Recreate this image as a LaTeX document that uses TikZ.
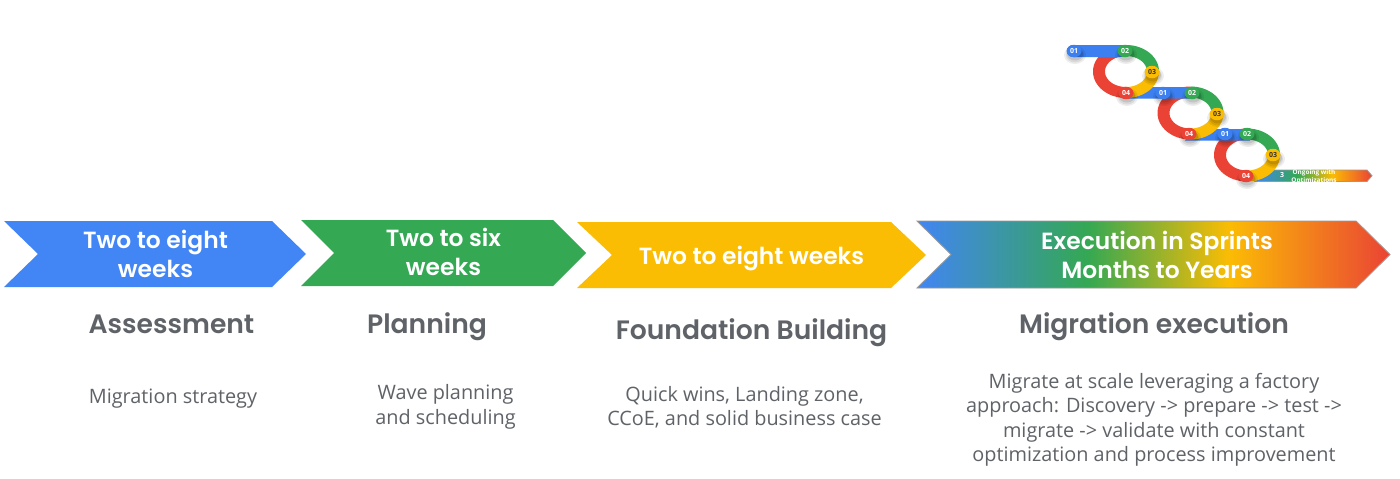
\documentclass[tikz,border=0pt]{standalone}
\usepackage{fontspec}
\setmainfont{Open Sans}
\newfontfamily\headfont{Poppins SemiBold}
\usetikzlibrary{shapes.geometric}
\definecolor{gblue}{HTML}{4285F4}
\definecolor{ggreen}{HTML}{34A853}
\definecolor{gyellow}{HTML}{FBBC04}
\definecolor{gred}{HTML}{EA4335}
\definecolor{ggrey}{HTML}{5F6368}
\definecolor{barblue}{HTML}{3B7FF0}
\pgfdeclarehorizontalshading{execgrad}{100bp}{color(0bp)=(gblue); color(25bp)=(gblue); color(43bp)=(ggreen); color(58bp)=(gyellow); color(75bp)=(gred); color(100bp)=(gred)}
\tikzset{
  chevlabel/.style={text=white,align=center,font=\headfont\fontsize{23.4}{29}\selectfont},
  headlabel/.style={text=ggrey,font=\headfont\fontsize{26.6}{30}\selectfont},
  bodylabel/.style={text=ggrey,align=center,font=\fontsize{19.85}{24.5}\selectfont},
  badgebase/.style={ellipse,minimum width=15,minimum height=12.5,inner sep=0,font=\bfseries\fontsize{7}{7}\selectfont},
}
% annular sector, angles in picture coordinates (y down)
\newcommand\ringpart[5]{%
  \fill[#5] plot[domain=#3:#4,samples=40] ({#1+33*cos(\x)},{#2+26.5*sin(\x)})
    -- plot[domain=#4:#3,samples=40] ({#1+21*cos(\x)},{#2+15.5*sin(\x)}) -- cycle;}
\newcommand\badge[6]{%
  \fill[black,opacity=.07] (#2+1,#3+4) ellipse (11 and 9);
  \fill[black,opacity=.08] (#2+1,#3+4) ellipse (9 and 7.5);
  \fill[black,opacity=.10] (#2+1,#3+3) ellipse (8 and 6.5);
  \node[badgebase,fill=#4,text=#5] (#1) at (#2,#3) {#6};}
\begin{document}
\begin{tikzpicture}[x=1pt,y=-1pt]
\useasboundingbox (0,0) rectangle (1400,479);
\fill[white] (0,0) rectangle (1400,479);
% chevrons
\fill[gblue] (4,221)--(272,221)--(306,254)--(272,287)--(4,287)--(38,254)--cycle;
\fill[ggreen] (301,220)--(553,220)--(586,253)--(553,286)--(301,286)--(334,253)--cycle;
\fill[gyellow] (577,222)--(891,222)--(926,255)--(891,288)--(577,288)--(612,255)--cycle;
\shade[shading=execgrad,draw=gray!80,line width=.9] (917,221)--(1356,221)--(1390,254.5)--(1356,288)--(917,288)--(951,254.5)--cycle;
\node[chevlabel] (c1) at (155.5,254) {Two to eight\\weeks};
\node[chevlabel] (c2) at (443.5,252) {Two to six\\weeks};
\node[chevlabel] (c3) at (751.5,259) {Two to eight weeks};
\node[chevlabel] (c4) at (1157,255) {Execution in Sprints\\Months to Years};
\node[headlabel] (h1) at (171.5,324) {Assessment};
\node[headlabel] (h2) at (427,326.5) {Planning};
\node[headlabel] (h3) at (751.5,333) {Foundation Building};
\node[headlabel] (h4) at (1154,326.5) {Migration execution};
\node[bodylabel] (b1) at (173,399) {Migration strategy};
\node[bodylabel] (b2) at (445.5,407) {Wave planning\\and scheduling};
\node[bodylabel] (b3) at (744.5,407) {Quick wins, Landing zone,\\CCoE, and solid business case};
\node[bodylabel] (b4) at (1154,420) {Migrate at scale leveraging a factory\\approach: Discovery -> prepare -> test ->\\migrate -> validate with constant\\optimization and process improvement};
% sprint rings: red parts first
\ringpart{1126}{71.5}{90}{270}{gred}
\ringpart{1190.5}{113}{90}{270}{gred}
\ringpart{1247}{155}{90}{270}{gred}
% blue bars
\fill[barblue,rounded corners=6] (1067,45) rectangle (1126,57);
\fill[barblue] (1120,45) rectangle (1126,57);
\fill[barblue] (1128,98.5)--(1193,98.5)--(1193,87)--(1147,87)--cycle;
\fill[barblue] (1185,140.5)--(1250,140.5)--(1250,129)--(1205,129)--cycle;
% closing arrow
\shade[shading=execgrad,draw=gray!80,line width=.8] (1255,181.5)--(1268,170)--(1367,170)--(1372,175.7)--(1367,181.5)--cycle;
\begin{scope}
\clip (1255,165) rectangle (1372,182.5);
\node[text=white,font=\bfseries\fontsize{7}{7}\selectfont] (t3) at (1282,175) {3};
\node[text=white,align=center,font=\bfseries\fontsize{6.4}{7.8}\selectfont] (t4) at (1314,177) {Ongoing with\\Optimizations};
\end{scope}
% green and yellow parts
\ringpart{1126}{71.5}{-90}{0}{ggreen}
\ringpart{1190.5}{113}{-90}{0}{ggreen}
\ringpart{1247}{155}{-90}{0}{ggreen}
\ringpart{1126}{71.5}{0}{90}{gyellow}
\ringpart{1190.5}{113}{0}{90}{gyellow}
\ringpart{1247}{155}{0}{90}{gyellow}
% badges
\badge{a1}{1074}{51}{barblue}{white}{01}
\badge{a2}{1125}{51}{ggreen}{white}{02}
\badge{a3}{1152}{72}{gyellow}{black!80}{03}
\badge{a4}{1126}{93}{gred}{white}{04}
\badge{d1}{1163}{93}{barblue}{white}{01}
\badge{d2}{1192}{93}{ggreen}{white}{02}
\badge{d3}{1217}{114}{gyellow}{black!80}{03}
\badge{d4}{1189}{134}{gred}{white}{04}
\badge{e1}{1225}{134}{barblue}{white}{01}
\badge{e2}{1247}{134}{ggreen}{white}{02}
\badge{e3}{1273}{155}{gyellow}{black!80}{03}
\badge{e4}{1246}{176}{gred}{white}{04}
\end{tikzpicture}
\end{document}
